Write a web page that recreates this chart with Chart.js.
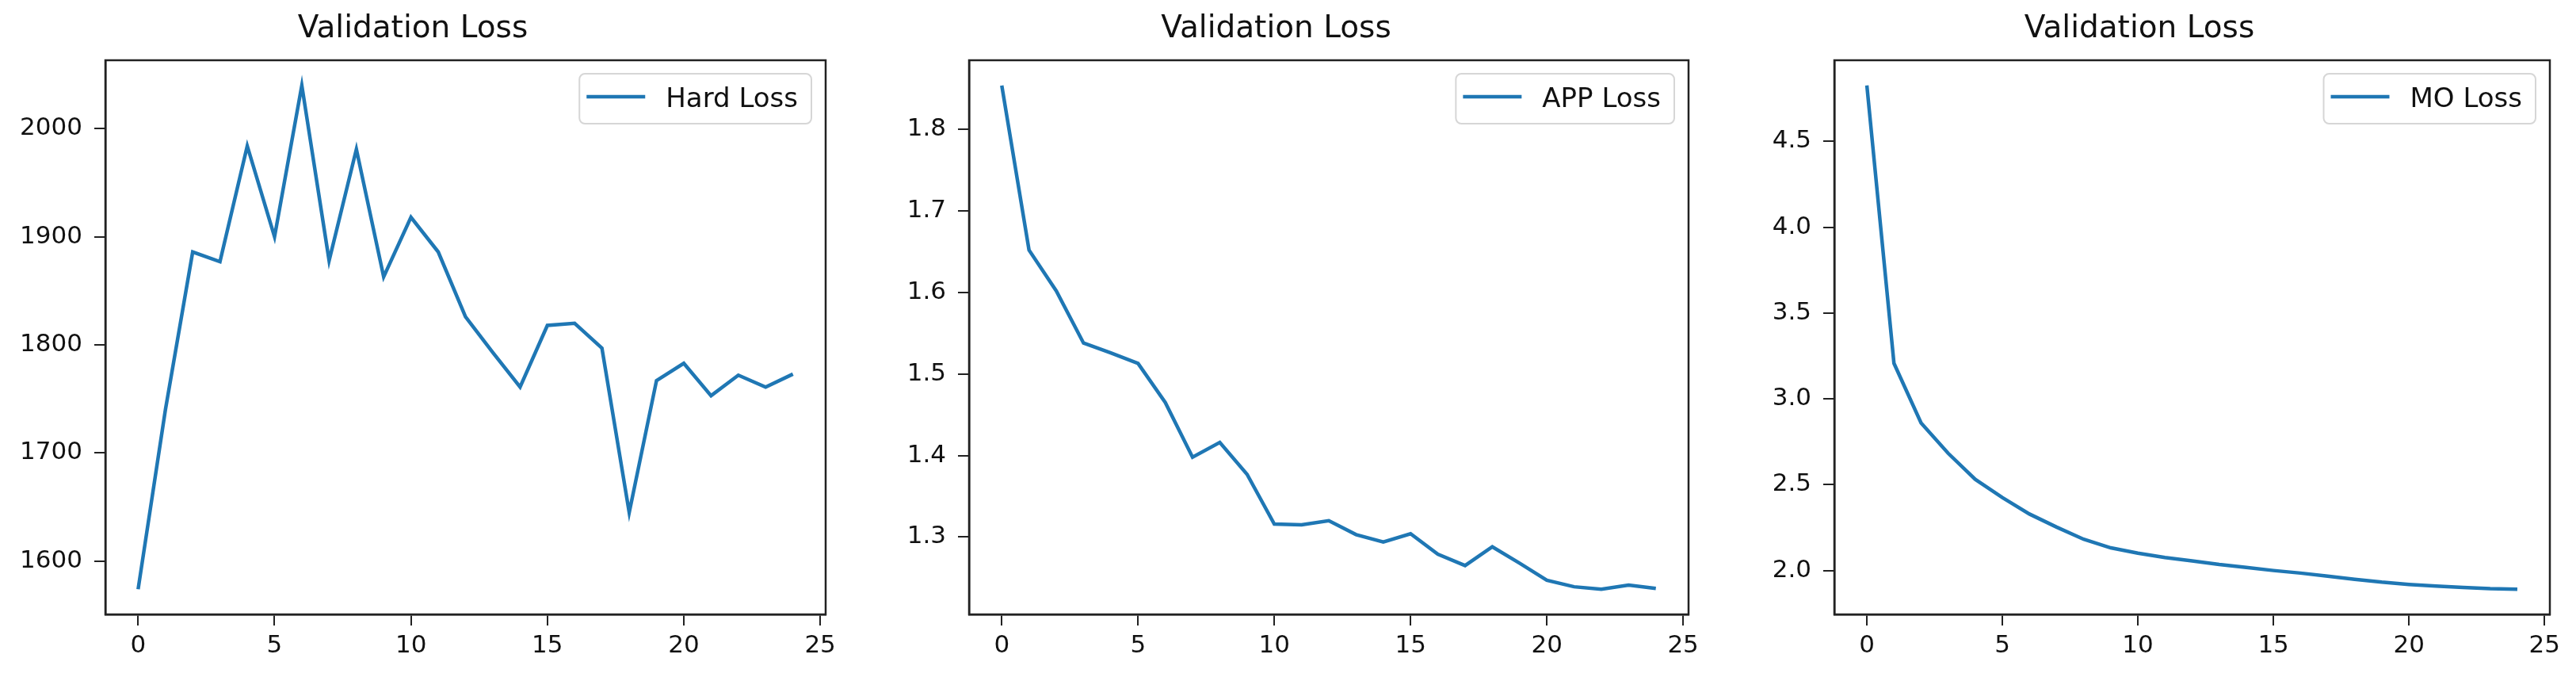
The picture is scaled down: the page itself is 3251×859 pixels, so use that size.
<!DOCTYPE html>
<html lang="en">
<head>
    <meta charset="UTF-8">
    <title>Validation Loss</title>
    <script src="https://cdn.jsdelivr.net/npm/chart.js"></script>
    <style>
        body { margin: 0; background: #fff; }
        .panel { position: absolute; top: 0; height: 859px; }
    </style>
</head>
<body>
    <div class="panel" style="left:0;width:1075px"><canvas id="hardChart"></canvas></div>
    <div class="panel" style="left:1090px;width:1074px"><canvas id="appChart"></canvas></div>
    <div class="panel" style="left:2182px;width:1069px"><canvas id="moChart"></canvas></div>

    <script>
        // data
        const epochs = [0, 1, 2, 3, 4, 5, 6, 7, 8, 9, 10, 11, 12, 13, 14, 15, 16, 17, 18, 19, 20, 21, 22, 23, 24];
        const hardLoss = [1574, 1740, 1886, 1877, 1984, 1900, 2040, 1878, 1981, 1863, 1918, 1886, 1826, 1793, 1761,
                          1818, 1820, 1797, 1645, 1767, 1783, 1753, 1772, 1761, 1773];
        const appLoss = [1.854, 1.652, 1.602, 1.538, 1.526, 1.513, 1.465, 1.398, 1.416, 1.377, 1.316, 1.315, 1.320,
                         1.303, 1.294, 1.304, 1.279, 1.265, 1.288, 1.268, 1.247, 1.239, 1.236, 1.241, 1.237];
        const moLoss = [4.826, 3.207, 2.860, 2.683, 2.531, 2.425, 2.329, 2.253, 2.182, 2.132, 2.101, 2.076, 2.056,
                        2.035, 2.018, 2.000, 1.985, 1.967, 1.949, 1.932, 1.919, 1.909, 1.901, 1.894, 1.891];

        const xTicks = [0, 5, 10, 15, 20, 25];
        const hardTicks = [1600, 1700, 1800, 1900, 2000];
        const appTicks = [1.3, 1.4, 1.5, 1.6, 1.7, 1.8];
        const moTicks = [2.0, 2.5, 3.0, 3.5, 4.0, 4.5];

        Chart.defaults.font.family = "'DejaVu Sans', sans-serif";
        Chart.defaults.color = '#111';

        const lineColor = '#1f77b4';
        const spineColor = '#222';

        // matplotlib style frame around the plot area
        const framePlugin = {
            id: 'frame',
            afterDraw(chart) {
                const { ctx, chartArea: a } = chart;
                ctx.save();
                ctx.strokeStyle = spineColor;
                ctx.lineWidth = 2.5;
                ctx.strokeRect(a.left, a.top, a.right - a.left, a.bottom - a.top);
                ctx.restore();
            }
        };

        // legend box in the upper right corner, inside the axes
        const insideLegend = {
            id: 'insideLegend',
            afterDatasetsDraw(chart) {
                const { ctx, chartArea: a } = chart;
                const label = chart.data.datasets[0].label;
                ctx.save();
                ctx.font = "34px 'DejaVu Sans'";
                const tw = ctx.measureText(label).width;
                const w = 9 + 74 + 26 + tw + 17;
                const h = 63;
                const right = a.right - 18;
                const left = right - w;
                const top = a.top + 17;
                ctx.beginPath();
                ctx.roundRect(left, top, w, h, 7);
                ctx.fillStyle = 'rgba(255,255,255,0.8)';
                ctx.fill();
                ctx.strokeStyle = '#d6d6d6';
                ctx.lineWidth = 2;
                ctx.stroke();
                ctx.beginPath();
                ctx.moveTo(left + 9, top + 29);
                ctx.lineTo(left + 83, top + 29);
                ctx.strokeStyle = lineColor;
                ctx.lineWidth = 4.5;
                ctx.stroke();
                ctx.fillStyle = '#111';
                ctx.textBaseline = 'alphabetic';
                ctx.fillText(label, left + 109, top + 42);
                ctx.restore();
            }
        };

        function makeChart(id, label, values, yTicks, fmt) {
            const lo = Math.min(...values), hi = Math.max(...values);
            const m = (hi - lo) * 0.05;
            const ctx = document.getElementById(id).getContext('2d');
            return new Chart(ctx, {
                type: 'line',
                data: {
                    datasets: [{
                        label: label,
                        data: epochs.map((e, i) => ({ x: e, y: values[i] })),
                        borderColor: lineColor,
                        borderWidth: 4.5,
                        pointRadius: 0,
                        tension: 0,
                        fill: false
                    }]
                },
                options: {
                    responsive: true,
                    maintainAspectRatio: false,
                    animation: false,
                    layout: { padding: { top: 0, left: 0, right: 33, bottom: 0 } },
                    plugins: {
                        legend: { display: false },
                        tooltip: { enabled: false },
                        title: {
                            display: true,
                            text: 'Validation Loss',
                            color: '#111',
                            font: { size: 39, weight: 'normal' },
                            padding: { top: 13.6, bottom: 15.6 }
                        }
                    },
                    scales: {
                        x: {
                            type: 'linear',
                            min: -1.2,
                            max: 25.2,
                            afterBuildTicks: s => { s.ticks = xTicks.map(v => ({ value: v })); },
                            afterFit: s => { s.height = 84; },
                            grid: { display: true, drawOnChartArea: false, drawTicks: true, tickLength: 14, color: spineColor, lineWidth: 2 },
                            border: { display: true, color: spineColor, width: 2.5 },
                            ticks: { font: { size: 31 }, padding: 7, maxRotation: 0, color: '#111' }
                        },
                        y: {
                            type: 'linear',
                            min: lo - m,
                            max: hi + m,
                            afterBuildTicks: s => { s.ticks = yTicks.map(v => ({ value: v })); },
                            afterFit: s => { s.width = 133; },
                            grid: { display: true, drawOnChartArea: false, drawTicks: true, tickLength: 14, color: spineColor, lineWidth: 2 },
                            border: { display: true, color: spineColor, width: 2.5 },
                            ticks: { font: { size: 31 }, padding: 15, color: '#111', callback: v => fmt(v) }
                        }
                    }
                },
                plugins: [framePlugin, insideLegend]
            });
        }

        makeChart('hardChart', 'Hard Loss', hardLoss, hardTicks, v => String(Math.round(v)));
        makeChart('appChart', 'APP Loss', appLoss, appTicks, v => v.toFixed(1));
        makeChart('moChart', 'MO Loss', moLoss, moTicks, v => v.toFixed(1));
    </script>
</body>
</html>
